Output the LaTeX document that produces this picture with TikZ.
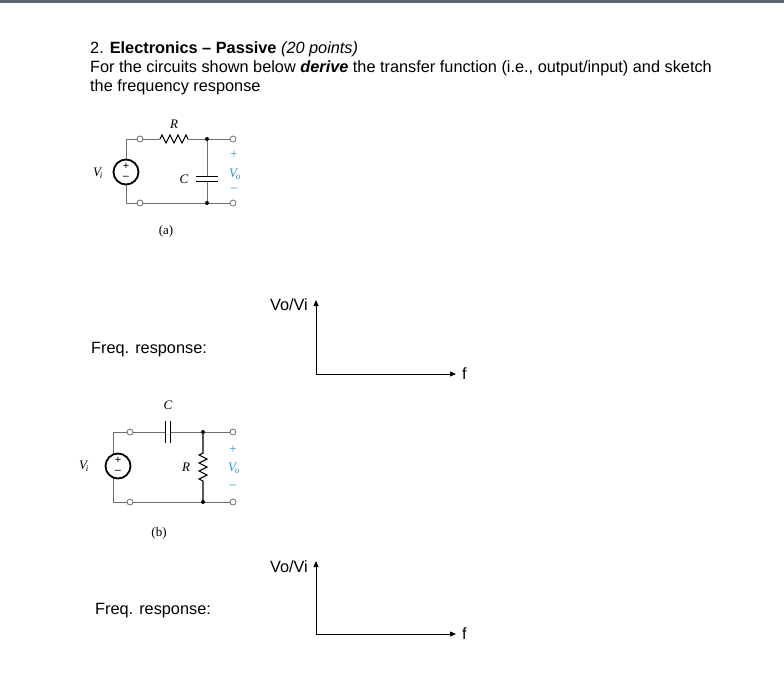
\documentclass[tikz,border=0pt]{standalone}
\usepackage{fontspec}
\setmainfont{Liberation Sans}
\newfontfamily\serif{Liberation Serif}
\usetikzlibrary{arrows.meta}
\definecolor{vblue}{RGB}{40,150,210}
\definecolor{wire}{RGB}{110,110,110}
\begin{document}
\begin{tikzpicture}[x=1pt,y=-1pt,
  txt/.style={anchor=west,inner sep=0,font=\fontsize{16.3}{18}\selectfont},
  lab/.style={inner sep=0,font=\serif\itshape\fontsize{13}{14}\selectfont},
  vo/.style={inner sep=0,text=vblue,font=\serif\fontsize{13}{14}\selectfont},
  pm/.style={inner sep=0,font=\fontsize{11}{11}\selectfont},
  w/.style={draw=wire,line width=0.9pt},
  term/.style={circle,draw=wire,fill=white,line width=0.8pt,inner sep=0,minimum size=6pt},
  dot/.style={circle,fill=black,inner sep=0,minimum size=4pt},
  src/.style={circle,draw=black,line width=1.8pt,fill=white,inner sep=0,minimum size=25pt},
  ax/.style={line width=0.8pt,-{Triangle[length=6pt,width=5pt]}}]
\useasboundingbox (0,0) rectangle (784,689);
\fill[fill={rgb,255:red,90;green,100;blue,115}] (0,0) rectangle (784,3);
\node[txt] (t1) at (90,49) {2. \textbf{Electronics – Passive} \textit{(20 points)}};
\node[txt] (t2) at (90,68) {For the circuits shown below \textbf{\textit{derive}} the transfer function (i.e., output/input) and sketch};
\node[txt] (t3) at (90,87) {the frequency response};
% circuit a
\coordinate (atl) at (126,139); \coordinate (abl) at (126,203);
\node[term] (at1) at (140,139) {}; \node[term] (ab1) at (140,203) {};
\node[dot] (ad1) at (207,139) {}; \node[dot] (ad2) at (207,203) {};
\node[term] (at2) at (233,139) {}; \node[term] (ab2) at (233,203) {};
\draw[w] (at1) -- (atl) -- (abl) -- (ab1);
\draw[w] (at1) -- (160,139);
\draw[line width=1.1pt] (160,139) -- (162,135) -- (166,143) -- (170,135) -- (174,143) -- (178,135) -- (182,143) -- (186,135) -- (188,139);
\draw[w] (188,139) -- (ad1) -- (at2);
\draw[w] (ab1) -- (ad2) -- (ab2);
\draw[w] (ad1) -- (207,176.5) (ad2) -- (207,181.5);
\draw[line width=1.4pt] (196,176.5) -- (218,176.5) (196,181.5) -- (218,181.5);
\node[src] (as) at (126,172) {};
\node[pm] at (126,166.5) {+};
\node[pm] at (126,178) {–};
\node[lab] at (174,124) {R};
\node[lab] at (184,179) {C};
\node[lab] at (98,173) {V\textsubscript{\kern-1pt\itshape i}};
\node[vo] at (234,155) {+};
\node[vo] at (235,174) {\itshape V\textsubscript{\kern-1pt o}};
\node[vo] at (234,190) {–};
\node[inner sep=0,font=\serif\fontsize{13}{14}\selectfont] at (166,231) {(a)};
% graph 1
\coordinate (g1c) at (316,374);
\node[txt,anchor=east] (g1y) at (308,305) {Vo/Vi};
\node[txt] (g1f) at (462,374) {f};
\draw[ax] (g1c) -- (316,300);
\draw[ax] (g1c) -- (456,374);
\node[txt] (fr1) at (91,350) {Freq. response:};
% circuit b
\coordinate (btl) at (113,432); \coordinate (bbl) at (113,502);
\node[term] (bt1) at (130,432) {}; \node[term] (bb1) at (130,502) {};
\node[dot] (bd1) at (203,432) {}; \node[dot] (bd2) at (203,502) {};
\node[term] (bt2) at (233,432) {}; \node[term] (bb2) at (233,502) {};
\draw[w] (bt1) -- (btl) -- (bbl) -- (bb1);
\draw[w] (bt1) -- (165.5,432) (170.5,432) -- (bd1) -- (bt2);
\draw[line width=1.4pt] (165.5,421) -- (165.5,443) (170.5,421) -- (170.5,443);
\draw[w] (bb1) -- (bd2) -- (bb2);
\draw[line width=1.1pt] (bd1) -- (203,453) -- (199,455) -- (207,459) -- (199,463) -- (207,467) -- (199,471) -- (207,475) -- (199,479) -- (203,481) -- (bd2);
\node[src] (bs) at (118,466) {};
\node[pm] at (118,460.5) {+};
\node[pm] at (118,472) {–};
\node[lab] at (168,405) {C};
\node[lab] at (186,467) {R};
\node[lab] at (84,466) {V\textsubscript{\kern-1pt\itshape i}};
\node[vo] at (233,450) {+};
\node[vo] at (234,468) {\itshape V\textsubscript{\kern-1pt o}};
\node[vo] at (233,487) {–};
\node[inner sep=0,font=\serif\fontsize{13}{14}\selectfont] at (159,533) {(b)};
% graph 2
\coordinate (g2c) at (316,634);
\node[txt,anchor=east] (g2y) at (308,567) {Vo/Vi};
\node[txt] (g2f) at (462,634) {f};
\draw[ax] (g2c) -- (316,561);
\draw[ax] (g2c) -- (456,634);
\node[txt] (fr2) at (95,611) {Freq. response:};
\end{tikzpicture}
\end{document}
